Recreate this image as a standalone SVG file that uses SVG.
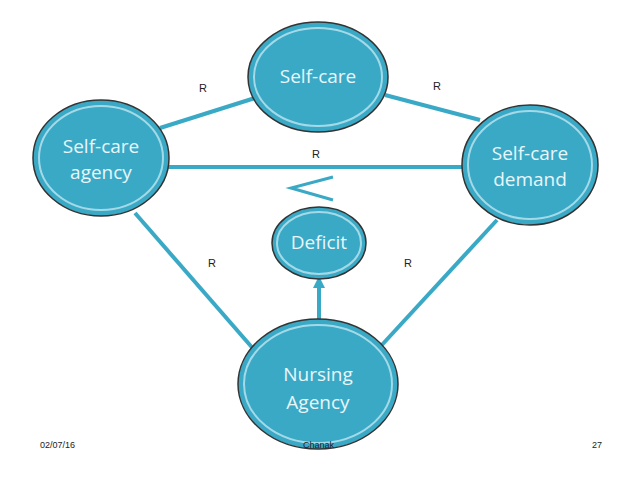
<svg xmlns="http://www.w3.org/2000/svg" width="638" height="478" viewBox="0 0 638 478">
<defs>
<style>
.n{fill:#3aa9c6;stroke:#333;stroke-width:1.5}
.hl{fill:none;stroke:#bfe6f0;stroke-width:2;opacity:.8}
.t{font-family:"Open Sans","DejaVu Sans",sans-serif;fill:#e8f6fa;font-size:19px;text-anchor:middle}
.c{stroke:#3aa9c6;stroke-width:4;fill:none}
.r{font-family:"Liberation Sans",sans-serif;font-size:11px;fill:#222;text-anchor:middle}
.f{font-family:"Liberation Sans",sans-serif;font-size:9px;fill:#222}
</style>
<marker id="a" viewBox="0 0 10 10" refX="5" refY="5" markerWidth="3" markerHeight="3" orient="auto"><path d="M0,0L10,5L0,10z" fill="#3aa9c6"/></marker>
</defs>
<rect width="638" height="478" fill="#fff"/>
<g id="connectors">
<line class="c" x1="160" y1="128" x2="255" y2="98"/>
<line class="c" x1="385" y1="95" x2="480" y2="120"/>
<line class="c" x1="168" y1="167" x2="465" y2="167"/>
<line class="c" x1="135" y1="213" x2="256" y2="352"/>
<line class="c" x1="497" y1="220" x2="380" y2="347"/>
<line class="c" x1="319" y1="320" x2="319" y2="282" marker-end="url(#a)"/>
<text class="r" x="203" y="92">R</text>
<text class="r" x="437" y="90">R</text>
<text class="r" x="316" y="158">R</text>
<text class="r" x="212" y="267">R</text>
<text class="r" x="408" y="267">R</text>
<polyline points="333,177 291,188 333,200" fill="none" stroke="#3aa9c6" stroke-width="3"/>
</g>
<g id="selfcare"><ellipse class="n" cx="318" cy="77" rx="70" ry="55"/><ellipse class="hl" cx="318" cy="77" rx="64" ry="49"/><text class="t" x="318" y="83">Self-care</text></g>
<g id="agency"><ellipse class="n" cx="101" cy="158" rx="68" ry="58"/><ellipse class="hl" cx="101" cy="158" rx="62" ry="52"/><text class="t" x="101" y="153">Self-care</text><text class="t" x="101" y="179">agency</text></g>
<g id="demand"><ellipse class="n" cx="530" cy="165" rx="68" ry="60"/><ellipse class="hl" cx="530" cy="165" rx="62" ry="54"/><text class="t" x="530" y="160">Self-care</text><text class="t" x="530" y="186">demand</text></g>
<g id="deficit"><ellipse class="n" cx="319" cy="243" rx="47" ry="36"/><ellipse class="hl" cx="319" cy="243" rx="42" ry="31"/><text class="t" x="319" y="249">Deficit</text></g>
<g id="nursing"><ellipse class="n" cx="318" cy="384" rx="80" ry="65"/><ellipse class="hl" cx="318" cy="384" rx="74" ry="59"/><text class="t" x="318" y="381">Nursing</text><text class="t" x="318" y="409">Agency</text></g>
<text class="f" x="40" y="448">02/07/16</text>
<text class="f" x="303" y="448">Chanak</text>
<text class="f" x="592" y="448">27</text>
</svg>
